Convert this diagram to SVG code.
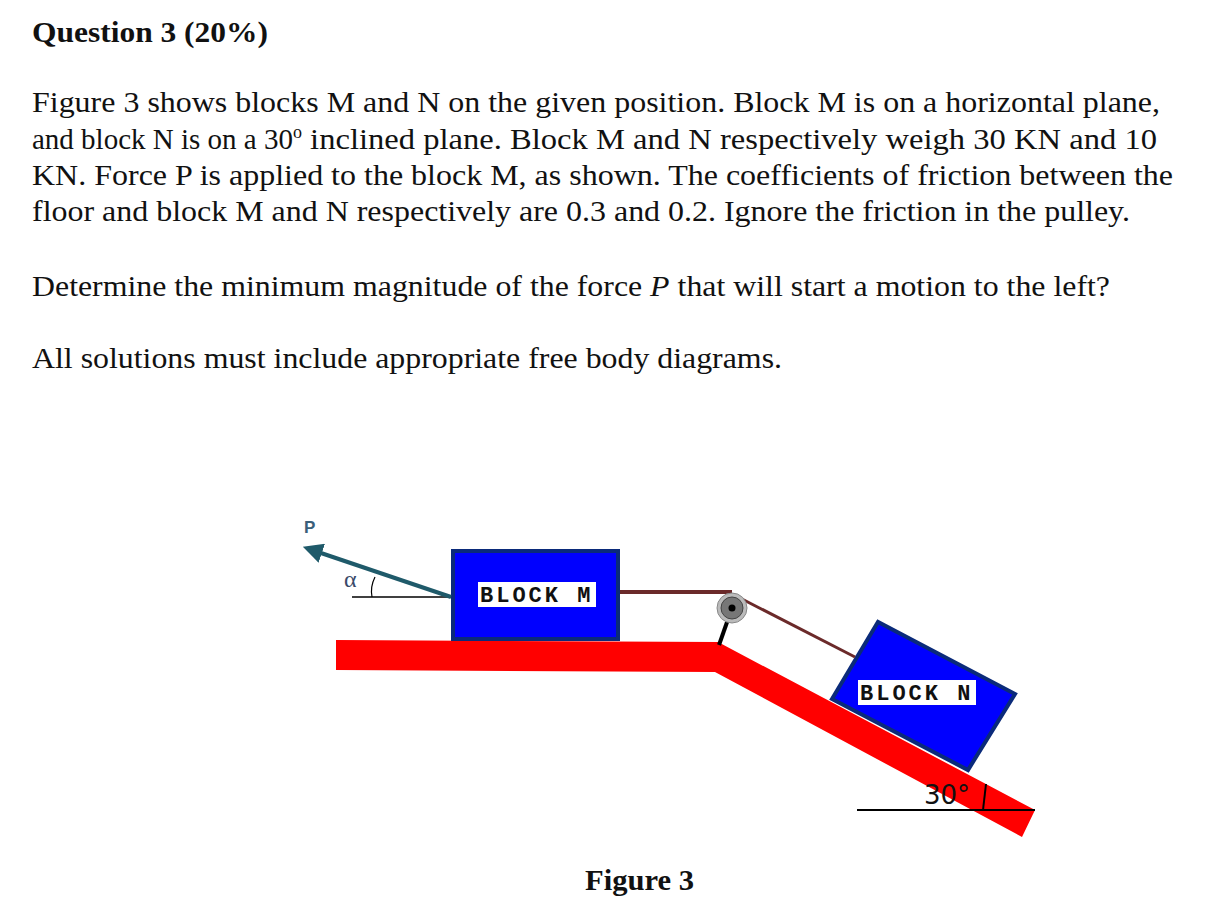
<svg xmlns="http://www.w3.org/2000/svg" width="1226" height="918" viewBox="0 0 1226 918">
<style>
.t{font-family:"Liberation Serif",serif;font-size:29px;fill:#111}
.lbl{font-family:"Liberation Mono","Courier New",monospace;font-size:22px;font-weight:bold;fill:#111;letter-spacing:3px}
.blk{fill:#0000ff;stroke:#0a2a7a;stroke-width:4}
</style>
<defs><marker id="ah" viewBox="0 0 10 10" refX="2" refY="5" markerWidth="5" markerHeight="5" orient="auto"><path d="M0,0L10,5L0,10z" fill="#1f5a6a"/></marker></defs>
<rect width="1226" height="918" fill="#fff"/>
<text class="t" x="32" y="42" font-weight="bold" textLength="236" lengthAdjust="spacingAndGlyphs">Question 3 (20%)</text>
<text class="t" x="32" y="112" textLength="1128" lengthAdjust="spacingAndGlyphs">Figure 3 shows blocks M and N on the given position. Block M is on a horizontal plane,</text>
<text class="t" x="32" y="149">and block N is on a 30<tspan font-size="18" dy="-11">o</tspan><tspan dy="11" textLength="855" lengthAdjust="spacingAndGlyphs"> inclined plane. Block M and N respectively weigh 30 KN and 10</tspan></text>
<text class="t" x="32" y="185" textLength="1141" lengthAdjust="spacingAndGlyphs">KN. Force P is applied to the block M, as shown. The coefficients of friction between the</text>
<text class="t" x="32" y="221" textLength="1098" lengthAdjust="spacingAndGlyphs">floor and block M and N respectively are 0.3 and 0.2. Ignore the friction in the pulley.</text>
<text class="t" x="32" y="296" textLength="1078" lengthAdjust="spacingAndGlyphs">Determine the minimum magnitude of the force <tspan font-style="italic">P</tspan> that will start a motion to the left?</text>
<text class="t" x="32" y="368" textLength="750" lengthAdjust="spacingAndGlyphs">All solutions must include appropriate free body diagrams.</text>
<g id="floor"><polygon points="336,640 718,642 1035,810 1022,837 715,672 336,670" fill="#ff0000"/></g>
<g id="blockM"><rect class="blk" x="453" y="551" width="165" height="88"/><rect x="478" y="582" width="118" height="25" fill="#fff"/><text class="lbl" x="480" y="602">BLOCK M</text></g>
<g id="blockN"><polygon class="blk" points="832,699 878,622 1015,694 968,770"/><rect x="858" y="680" width="118" height="25" fill="#fff"/><text class="lbl" x="860" y="700">BLOCK N</text></g>
<g id="connectors">
<line x1="620" y1="592" x2="732" y2="592" stroke="#6b2a2a" stroke-width="4"/>
<line x1="740" y1="598" x2="855" y2="657" stroke="#6b2a2a" stroke-width="3"/>
<line x1="732" y1="608" x2="719" y2="645" stroke="#000" stroke-width="4"/>
<line x1="352" y1="597" x2="451" y2="597" stroke="#000" stroke-width="1.5"/>
<line x1="451" y1="597" x2="318" y2="552" stroke="#1f5a6a" stroke-width="4" marker-end="url(#ah)"/>
<path d="M375,577 Q370,587 372,597" fill="none" stroke="#000" stroke-width="1.2"/>
<line x1="857" y1="810" x2="1035" y2="810" stroke="#000" stroke-width="2"/>
<line x1="986" y1="784" x2="983" y2="810" stroke="#000" stroke-width="2"/>
</g>
<g id="pulley"><circle cx="732" cy="608" r="15" fill="#bbb" stroke="#888"/><circle cx="732" cy="608" r="11" fill="#777" stroke="#444"/><circle cx="732" cy="608" r="3.5" fill="#000"/></g>
<text x="304" y="533" font-family="Liberation Sans,sans-serif" font-size="17" font-weight="bold" fill="#3a5f7a">P</text>
<text x="344" y="587" font-family="Liberation Serif,serif" font-size="24" fill="#3a4a6a">α</text>
<text x="924" y="804" font-family="DejaVu Sans,sans-serif" font-size="26" fill="#111">30°</text>
<text class="t" x="585" y="890" font-weight="bold" textLength="109" lengthAdjust="spacingAndGlyphs">Figure 3</text>
</svg>
